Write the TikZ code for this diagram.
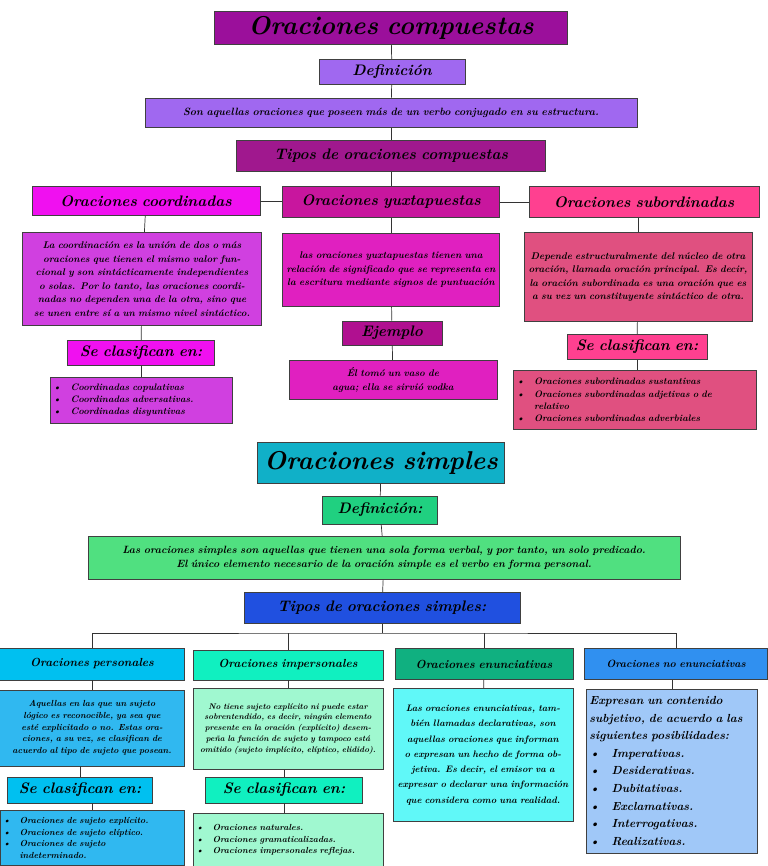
\documentclass[tikz,border=0pt]{standalone}
\usepackage{tikz}
\usetikzlibrary{positioning, shapes}
\usetikzlibrary{arrows.meta}

\definecolor{cTitle}{RGB}{155,15,155}
\definecolor{cViolet}{RGB}{160,104,240}
\definecolor{cTipos}{RGB}{160,24,142}
\definecolor{cCoord}{RGB}{240,16,240}
\definecolor{cYuxt}{RGB}{200,22,158}
\definecolor{cSubor}{RGB}{255,64,144}
\definecolor{cCoordT}{RGB}{208,64,224}
\definecolor{cYuxtT}{RGB}{224,32,192}
\definecolor{cSuborT}{RGB}{224,80,128}
\definecolor{cEjem}{RGB}{176,16,144}
\definecolor{cSimple}{RGB}{16,176,200}
\definecolor{cGreen}{RGB}{32,208,128}
\definecolor{cGreenT}{RGB}{80,224,128}
\definecolor{cBlue}{RGB}{32,80,224}
\definecolor{cPers}{RGB}{0,192,240}
\definecolor{cImp}{RGB}{16,240,192}
\definecolor{cEnun}{RGB}{16,176,128}
\definecolor{cNoEn}{RGB}{48,144,240}
\definecolor{cPersT}{RGB}{48,184,240}
\definecolor{cImpT}{RGB}{160,248,208}
\definecolor{cEnunT}{RGB}{96,248,248}
\definecolor{cNoEnT}{RGB}{160,200,248}

\begin{document}
\begin{tikzpicture}[x=0.03cm, y=-0.03cm]
    \tikzset{box/.code 2 args={\pgfmathsetlengthmacro\bw{#1*0.03cm-5pt}%
        \tikzset{minimum width=#1*0.03cm, minimum height=#2*0.03cm, text width=\bw}}}
    \tikzset{bx/.style = {draw=black!75, line width=0.8pt, align=center, inner sep=2pt,
        font=\fontsize{7.5}{10}\selectfont\itshape\bfseries}}
    \tikzset{tx/.style = {bx, font=\fontsize{8.3}{11.5}\selectfont\itshape\bfseries}}
    \tikzset{hd/.style = {bx, font=\fontsize{13}{15}\selectfont\itshape\bfseries}}
    \tikzset{big/.style = {bx, font=\fontsize{22}{24}\selectfont\itshape\bfseries}}
    \tikzset{ln/.style = {draw=black!80, line width=0.6pt}}

    \useasboundingbox (0,0) rectangle (768,866);

    % compuestas
    \node[big, box={353}{33}, fill=cTitle] (comp) at (391,28) {Oraciones compuestas};
    \node[hd, box={146}{25}, fill=cViolet] (compdef) at (392,72) {Definición};
    \node[bx, box={492}{29}, fill=cViolet, font=\fontsize{9}{11}\selectfont\itshape\bfseries] (compdeft) at (391,113)
        {Son aquellas oraciones que poseen más de un verbo conjugado en su estructura.};
    \node[hd, box={309}{31}, fill=cTipos] (comptip) at (391,156) {Tipos de oraciones compuestas};

    \node[hd, box={228}{29}, fill=cCoord] (coord) at (146,201) {Oraciones coordinadas};
    \node[hd, box={217}{31}, fill=cYuxt] (yuxt) at (391,202) {Oraciones yuxtapuestas};
    \node[hd, box={230}{31}, fill=cSubor] (subor) at (644,202) {Oraciones subordinadas};

    \node[tx, box={239}{93}, fill=cCoordT] (coordt) at (142,279)
        {La coordinación es la unión de dos o más oraciones que tienen el mismo valor funcional y son sintácticamente independientes o solas. Por lo tanto, las oraciones coordinadas no dependen una de la otra, sino que se unen entre sí a un mismo nivel sintáctico.};
    \node[tx, box={217}{73}, fill=cYuxtT] (yuxtt) at (391,270)
        {las oraciones yuxtapuestas tienen una relación de significado que se representa en la escritura mediante signos de puntuación};
    \node[tx, box={228}{89}, fill=cSuborT] (subort) at (638,277)
        {Depende estructuralmente del núcleo de otra oración, llamada oración principal. Es decir, la oración subordinada es una oración que es a su vez un constituyente sintáctico de otra.};

    \node[hd, box={147}{25}, fill=cCoord] (coordcl) at (141,353) {Se clasifican en:};
    \node[hd, box={100}{24}, fill=cEjem] (ejem) at (392,333) {Ejemplo};
    \node[tx, box={208}{39}, fill=cYuxtT] (ejemt) at (393,380) {Él tomó un vaso de agua; ella se sirvió vodka};
    \node[hd, box={140}{25}, fill=cSubor] (suborcl) at (637,347) {Se clasifican en:};

    \node[tx, box={182}{46}, fill=cCoordT, align=left, font=\fontsize{8}{10.5}\selectfont\itshape\bfseries] (coordl) at (141,400)
        {\textbullet\quad Coordinadas copulativas\\ \textbullet\quad Coordinadas adversativas.\\ \textbullet\quad Coordinadas disyuntivas};
    \node[tx, box={243}{59}, fill=cSuborT, align=left, font=\fontsize{8}{10.5}\selectfont\itshape\bfseries] (suborl) at (635,400)
        {\textbullet\quad Oraciones subordinadas sustantivas\\ \textbullet\quad Oraciones subordinadas adjetivas o de\\ \phantom{\textbullet}\quad relativo\\ \textbullet\quad Oraciones subordinadas adverbiales};

    \draw[ln] (comp) -- (compdef);
    \draw[ln] (compdef) -- (compdeft);
    \draw[ln] (compdeft) -- (comptip);
    \draw[ln] (comptip) -- (yuxt);
    \draw[ln] (coord) -- (yuxt);
    \draw[ln] (yuxt) -- (subor);
    \draw[ln] (coord) -- (coordt);
    \draw[ln] (coordt) -- (coordcl);
    \draw[ln] (coordcl) -- (coordl);
    \draw[ln] (yuxt) -- (yuxtt);
    \draw[ln] (yuxtt) -- (ejem);
    \draw[ln] (ejem) -- (ejemt);
    \draw[ln] (subor.south -| subort) -- (subort);
    \draw[ln] (subort) -- (suborcl);
    \draw[ln] (suborcl.south) -- (suborcl.south |- suborl.north);

    % simples
    \node[big, box={247}{41}, fill=cSimple] (simp) at (381,463) {Oraciones simples};
    \node[hd, box={115}{28}, fill=cGreen] (simpdef) at (380,510) {Definición:};
    \node[bx, box={592}{43}, fill=cGreenT, font=\fontsize{9}{12}\selectfont\itshape\bfseries] (simpdeft) at (384,558)
        {Las oraciones simples son aquellas que tienen una sola forma verbal, y por tanto, un solo predicado.\\ El único elemento necesario de la oración simple es el verbo en forma personal.};
    \node[hd, box={276}{31}, fill=cBlue] (simptip) at (382,608) {Tipos de oraciones simples:};

    \node[hd, box={185}{32}, fill=cPers, font=\fontsize{10}{12}\selectfont\itshape\bfseries] (pers) at (92,664) {Oraciones personales};
    \node[hd, box={190}{30}, fill=cImp, font=\fontsize{10}{12}\selectfont\itshape\bfseries] (imp) at (288,665) {Oraciones impersonales};
    \node[hd, box={178}{31}, fill=cEnun, font=\fontsize{10}{12}\selectfont\itshape\bfseries] (enun) at (484,664) {Oraciones enunciativas};
    \node[hd, box={183}{31}, fill=cNoEn, font=\fontsize{9}{12}\selectfont\itshape\bfseries] (noen) at (676,664) {Oraciones no enunciativas};

    \node[bx, box={185}{76}, fill=cPersT] (perst) at (92,728)
        {Aquellas en las que un sujeto lógico es reconocible, ya sea que esté explicitado o no. Estas oraciones, a su vez, se clasifican de acuerdo al tipo de sujeto que posean.};
    \node[bx, box={190}{81}, fill=cImpT, font=\fontsize{7}{9.3}\selectfont\itshape\bfseries] (impt) at (288,729)
        {No tiene sujeto explícito ni puede estar sobrentendido, es decir, ningún elemento presente en la oración (explícito) desempeña la función de sujeto y tampoco está omitido (sujeto implícito, elíptico, elidido).};
    \node[bx, box={180}{133}, fill=cEnunT, font=\fontsize{8}{13}\selectfont\itshape\bfseries] (enunt) at (483,755)
        {Las oraciones enunciativas, también llamadas declarativas, son aquellas oraciones que informan o expresan un hecho de forma objetiva. Es decir, el emisor va a expresar o declarar una información que considera como una realidad.};
    \node[bx, box={171}{164}, fill=cNoEnT, align=left, font=\fontsize{10}{15}\selectfont\itshape\bfseries] (noent) at (672,771)
        {Expresan un contenido subjetivo, de acuerdo a las siguientes posibilidades:\\ \textbullet\quad Imperativas.\\ \textbullet\quad Desiderativas.\\ \textbullet\quad Dubitativas.\\ \textbullet\quad Exclamativas.\\ \textbullet\quad Interrogativas.\\ \textbullet\quad Realizativas.};

    \node[hd, box={145}{26}, fill=cPers] (perscl) at (80,790) {Se clasifican en:};
    \node[hd, box={157}{26}, fill=cImp] (impcl) at (284,790) {Se clasifican en:};
    \node[bx, box={184}{55}, fill=cPersT, align=left] (persl) at (92,838)
        {\textbullet\quad Oraciones de sujeto explícito.\\ \textbullet\quad Oraciones de sujeto elíptico.\\ \textbullet\quad Oraciones de sujeto\\ \phantom{\textbullet}\quad indeterminado.};
    \node[bx, box={190}{53}, fill=cImpT, align=left] (impl) at (288,840)
        {\textbullet\quad Oraciones naturales.\\ \textbullet\quad Oraciones gramaticalizadas.\\ \textbullet\quad Oraciones impersonales reflejas.};

    \coordinate (bar) at (382,633);
    \draw[ln] (simp) -- (simpdef);
    \draw[ln] (simpdef) -- (simpdeft);
    \draw[ln] (simpdeft) -- (simptip);
    \draw[ln] (simptip) -- (bar);
    \draw[ln] (pers.north) |- (bar) -| (noen.north);
    \draw[ln] (imp.north) -- (imp.north |- bar);
    \draw[ln] (enun.north) -- (enun.north |- bar);
    \draw[ln] (pers) -- (perst);
    \draw[ln] (perst.south -| perscl) -- (perscl);
    \draw[ln] (perscl.south -| persl) -- (persl);
    \draw[ln] (imp) -- (impt);
    \draw[ln] (impt.south -| impcl) -- (impcl);
    \draw[ln] (impcl) -- (impcl |- impl.north);
    \draw[ln] (enun) -- (enunt);
    \draw[ln] (noen.south -| noent) -- (noent);
\end{tikzpicture}
\end{document}
